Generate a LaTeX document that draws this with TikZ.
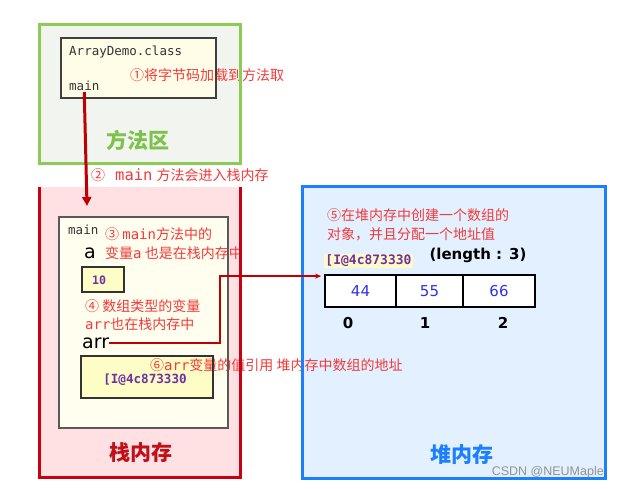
\documentclass[tikz,border=0pt]{standalone}
\usepackage{fontspec}
\setmainfont{Noto Sans CJK SC}
\setmonofont{DejaVu Sans Mono}
\newfontfamily\dvsans{DejaVu Sans}
\newfontfamily\libsans{Liberation Sans}
\usetikzlibrary{arrows.meta}
\newcommand\fsz[1]{\fontsize{#1}{#1}\selectfont}
\definecolor{gbord}{HTML}{8DCB55}
\definecolor{gfill}{HTML}{F2F5EF}
\definecolor{gtext}{HTML}{7DC24A}
\definecolor{ann}{HTML}{F23A3A}
\definecolor{darkred}{HTML}{C00000}
\definecolor{sbord}{HTML}{C8000F}
\definecolor{sfill}{HTML}{FFE1E4}
\definecolor{stext}{HTML}{C0101A}
\definecolor{yfill}{HTML}{FFFDE8}
\definecolor{yfill2}{HTML}{FFFDC6}
\definecolor{purp}{HTML}{7030A0}
\definecolor{hbord}{HTML}{1A80FF}
\definecolor{hfill}{HTML}{E3F0FF}
\definecolor{numblue}{HTML}{3030E8}
\definecolor{hl}{HTML}{FFFBC8}
\tikzset{
  anntext/.style={anchor=west,inner sep=0pt,text=ann,font=\fsz{14}},
  code/.style={anchor=west,inner sep=0pt,text=black!80,font=\ttfamily\fsz{12.5}},
  addr/.style={inner sep=0pt,text=purp,font=\ttfamily\bfseries\fsz{12.6}},
  varname/.style={anchor=west,inner sep=0pt,font=\dvsans\fsz{19}},
  arealabel/.style={inner sep=0pt,font=\bfseries\fsz{21}},
  cell/.style={draw=black,line width=1.8pt,fill=white,minimum height=32pt,inner sep=0pt,text=numblue,font=\dvsans\fsz{15}},
  idx/.style={inner sep=0pt,font=\dvsans\bfseries\fsz{15}},
  conn/.style={draw=darkred,line width=1.3pt,-{Stealth[length=6pt,width=5pt]}},
  bigarrow/.style={draw=darkred,line width=3pt,-{Triangle[length=9pt,width=9pt]}},
}
\begin{document}
\begin{tikzpicture}[x=1pt,y=-1pt]
\useasboundingbox (0,0) rectangle (620,489);
% fills
\fill[white] (0,0) rectangle (620,489);
\fill[gfill] (39,25) rectangle (240,163);
\fill[yfill] (61,38) rectangle (216,98);
\fill[sfill] (39,187) rectangle (240,477);
\fill[yfill!70!white] (59,217) rectangle (228,428);
\fill[yfill2] (82,267) rectangle (124,292);
\fill[yfill2] (81,356) rectangle (213,398);
\fill[hfill] (302,186) rectangle (605,478);

% texts
\node[code] (cls) at (69,52) {ArrayDemo.class};
\node[code] (mainm) at (69,86) {main};
\node[anntext] (t1) at (130,75) {①将字节码加载到方法取};
\node[arealabel,text=gtext] (marea) at (138,140) {方法区};
\node[anntext] (t2) at (91,175) {②\hspace{10pt}{\ttfamily\fsz{15.5}main}\hspace{4pt}方法会进入栈内存};
\node[code] (mainf) at (68,230) {main};
\node[anntext] (t3a) at (105,234) {③ \texttt{main}方法中的};
\node[anntext] (t3b) at (105,253) {变量\texttt{a} 也是在栈内存中};
\node[varname] (va) at (84,253) {a};
\node[inner sep=0pt,text=purp,font=\ttfamily\bfseries\fsz{11.6}] (v10) at (99,280) {10};
\node[anntext] (t4a) at (85,306) {④ 数组类型的变量};
\node[anntext] (t4b) at (85,324) {\texttt{arr}也在栈内存中};
\node[varname] (arr) at (82,343) {arr};
\node[addr] (addr1) at (145,380) {[I@4c873330};
\node[anntext] (t6) at (150,365) {⑥\texttt{arr}变量的值引用 堆内存中数组的地址};
\node[arealabel,text=stext] (sarea) at (141,453) {栈内存};
\node[anntext] (t5a) at (327,215) {⑤在堆内存中创建一个数组的};
\node[anntext] (t5b) at (327,234) {对象，并且分配一个地址值};
\node[addr,fill=hl,inner sep=1pt,font=\ttfamily\bfseries\fsz{13}] (addr2) at (368.5,261) {[I@4c873330};
\node[inner sep=0pt,font=\dvsans\bfseries\fsz{15}] (len) at (478,255) {(length : 3)};
\node[arealabel,text=hbord] (harea) at (462,455) {堆内存};
\node[inner sep=0pt,anchor=east,text=gray!85,font=\libsans\fsz{12.5}] (wm) at (604,472) {CSDN @NEUMaple};

% borders
\draw[gbord,line width=3pt] (39,25) rectangle (240,163);
\draw[black!75,line width=1.5pt] (61,38) rectangle (216,98);
\draw[sbord,line width=3pt] (39,187) -- (39,477) -- (240,477) -- (240,187);
\draw[black!65,line width=1.2pt] (59,217) rectangle (228,428);
\draw[black!80,line width=1.5pt] (82,267) rectangle (124,292);
\draw[black!80,line width=1.5pt] (81,356) rectangle (213,398);
\draw[hbord,line width=3pt] (302,186) rectangle (605,478);

% array
\node[cell,minimum width=71pt] (c0) at (360.5,291) {44};
\node[cell,minimum width=67pt] (c1) at (429.5,291) {55};
\node[cell,minimum width=72pt] (c2) at (499,291) {66};
\node[idx] (i0) at (348,323) {0};
\node[idx] (i1) at (425,323) {1};
\node[idx] (i2) at (503,323) {2};

% connectors
\coordinate (stackin) at (87,206);
\coordinate (bend) at (220,300);
\draw[bigarrow] ([yshift=-1pt]mainm.south) -- (stackin);
\draw[conn] (arr.east) -| (bend) |- ([xshift=-3pt,yshift=-2pt]c0.north west);
\end{tikzpicture}
\end{document}
